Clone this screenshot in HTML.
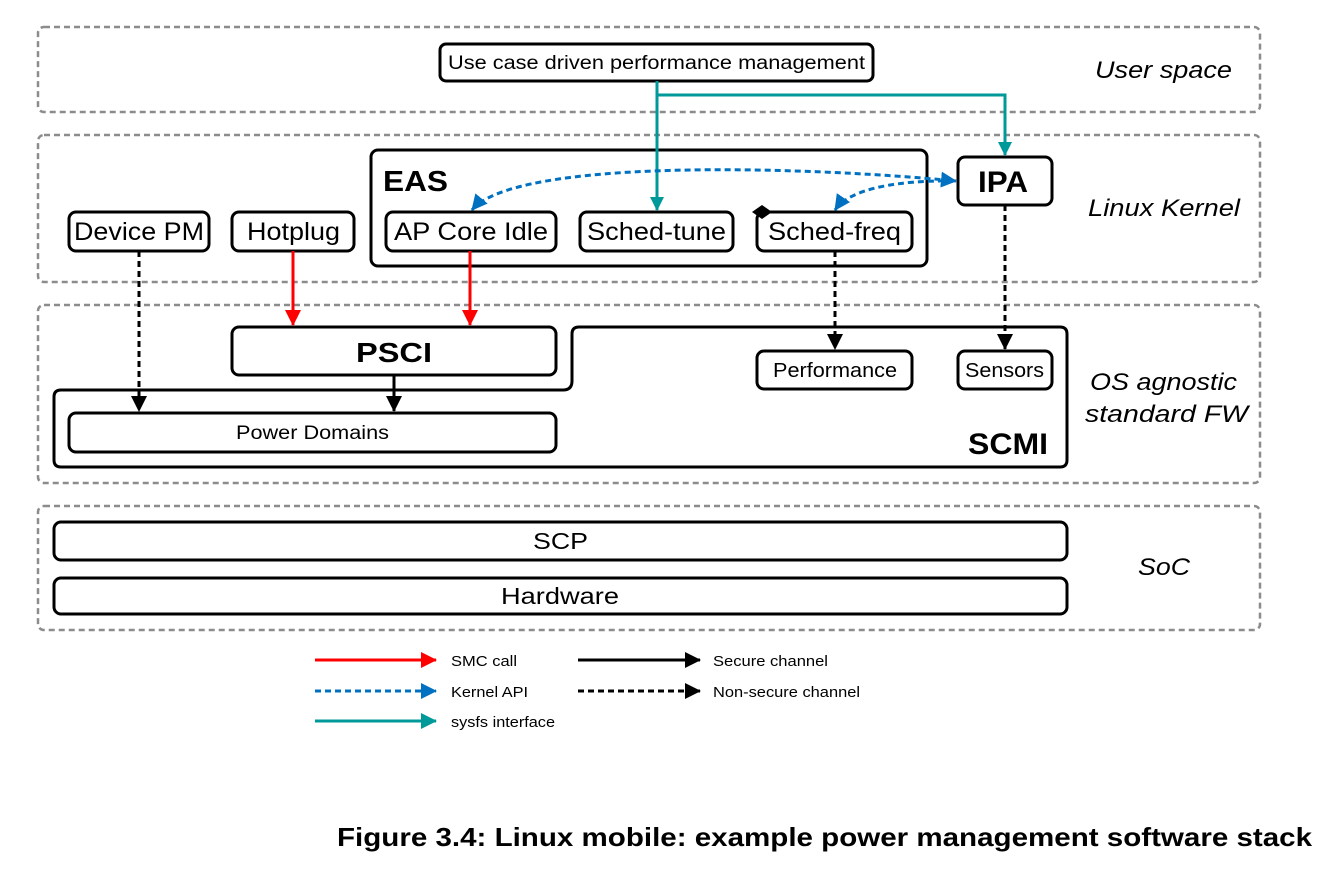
<!DOCTYPE html>
<html><head><meta charset="utf-8"><style>
html,body{margin:0;padding:0;background:#fff;}
svg{display:block;font-family:"Liberation Sans",Arial,sans-serif;}
</style></head><body>
<svg width="1327" height="869" viewBox="0 0 1327 869" xmlns="http://www.w3.org/2000/svg">
<defs>
<marker id="au" markerWidth="16" markerHeight="16" refX="15" refY="8" orient="auto-start-reverse" markerUnits="userSpaceOnUse" viewBox="0 0 16 16"><path d="M0,0 L16,8 L0,16z" fill="#0070c0"/></marker>
<marker id="ar2" markerWidth="16" markerHeight="16" refX="15" refY="8" orient="auto" markerUnits="userSpaceOnUse" viewBox="0 0 16 16"><path d="M0,0 L16,8 L0,16z" fill="#ff0000"/></marker>
<marker id="ab2" markerWidth="16" markerHeight="16" refX="15" refY="8" orient="auto" markerUnits="userSpaceOnUse" viewBox="0 0 16 16"><path d="M0,0 L16,8 L0,16z" fill="#000"/></marker>
<marker id="at" markerWidth="14" markerHeight="14" refX="13" refY="7" orient="auto" markerUnits="userSpaceOnUse" viewBox="0 0 14 14"><path d="M0,0 L14,7 L0,14z" fill="#009999"/></marker>
<marker id="at2" markerWidth="16" markerHeight="16" refX="15" refY="8" orient="auto" markerUnits="userSpaceOnUse" viewBox="0 0 16 16"><path d="M0,0 L16,8 L0,16z" fill="#009999"/></marker>
</defs>

<g fill="none" stroke="#8c8c8c" stroke-width="2.5" stroke-dasharray="6,4">
<rect x="38" y="27" width="1222" height="85" rx="6"/>
<rect x="38" y="135" width="1222" height="147" rx="6"/>
<rect x="38" y="305" width="1222" height="178" rx="6"/>
<rect x="38" y="506" width="1222" height="124" rx="6"/>
</g>

<g font-style="italic" font-size="24" fill="#000" lengthAdjust="spacingAndGlyphs">
<text x="1095" y="78" textLength="137" lengthAdjust="spacingAndGlyphs">User space</text>
<text x="1088" y="216" textLength="152" lengthAdjust="spacingAndGlyphs">Linux Kernel</text>
<text x="1090" y="390" textLength="147" lengthAdjust="spacingAndGlyphs">OS agnostic</text>
<text x="1085" y="422" textLength="163" lengthAdjust="spacingAndGlyphs">standard FW</text>
<text x="1138" y="575" textLength="52" lengthAdjust="spacingAndGlyphs">SoC</text>
</g>

<g fill="#fff" stroke="#000" stroke-width="3">
<rect x="440" y="44" width="433" height="37" rx="6"/>
<rect x="371" y="150" width="556" height="116" rx="7"/>
<rect x="958" y="157" width="94" height="48" rx="7"/>
<rect x="69" y="212" width="140" height="39" rx="7"/>
<rect x="232" y="212" width="122" height="39" rx="7"/>
<rect x="386" y="212" width="170" height="39" rx="7"/>
<rect x="580" y="212" width="153" height="39" rx="7"/>
<rect x="757" y="212" width="155" height="39" rx="7"/>
<path d="M61,390 L563,390 Q572,390 572,381 L572,334 Q572,327 579,327 L1060,327 Q1067,327 1067,334 L1067,460 Q1067,467 1060,467 L61,467 Q54,467 54,460 L54,397 Q54,390 61,390 Z"/>
<rect x="232" y="327" width="324" height="48" rx="7"/>
<rect x="69" y="413" width="487" height="39" rx="7"/>
<rect x="757" y="351" width="155" height="38" rx="7"/>
<rect x="958" y="351" width="94" height="38" rx="7"/>
<rect x="54" y="522" width="1013" height="38" rx="7"/>
<rect x="54" y="578" width="1013" height="36" rx="7"/>
</g>

<g fill="#000">
<text x="448" y="69" font-size="19" textLength="417" lengthAdjust="spacingAndGlyphs">Use case driven performance management</text>
<text x="383" y="191" font-size="29" font-weight="bold" textLength="65" lengthAdjust="spacingAndGlyphs">EAS</text>
<text x="978" y="192" font-size="30" font-weight="bold" textLength="50" lengthAdjust="spacingAndGlyphs">IPA</text>
<text x="74" y="240" font-size="25" textLength="130" lengthAdjust="spacingAndGlyphs">Device PM</text>
<text x="247" y="240" font-size="25" textLength="93" lengthAdjust="spacingAndGlyphs">Hotplug</text>
<text x="394" y="240" font-size="25" textLength="154" lengthAdjust="spacingAndGlyphs">AP Core Idle</text>
<text x="587" y="240" font-size="25" textLength="139" lengthAdjust="spacingAndGlyphs">Sched-tune</text>
<text x="768" y="240" font-size="25" textLength="133" lengthAdjust="spacingAndGlyphs">Sched-freq</text>
<text x="356" y="362" font-size="28" font-weight="bold" textLength="76" lengthAdjust="spacingAndGlyphs">PSCI</text>
<text x="236" y="439" font-size="19" textLength="153" lengthAdjust="spacingAndGlyphs">Power Domains</text>
<text x="773" y="377" font-size="20" textLength="124" lengthAdjust="spacingAndGlyphs">Performance</text>
<text x="965" y="377" font-size="20" textLength="79" lengthAdjust="spacingAndGlyphs">Sensors</text>
<text x="968" y="454" font-size="30" font-weight="bold" textLength="80" lengthAdjust="spacingAndGlyphs">SCMI</text>
<text x="533" y="549" font-size="23" textLength="55" lengthAdjust="spacingAndGlyphs">SCP</text>
<text x="501" y="604" font-size="23" textLength="118" lengthAdjust="spacingAndGlyphs">Hardware</text>
</g>

<g fill="none" stroke-width="3">
<path d="M657,81 L657,210" stroke="#009999" marker-end="url(#at)"/>
<path d="M657,95 L1005,95 L1005,155" stroke="#009999" marker-end="url(#at)"/>
<path d="M293,251 L293,325" stroke="#ff0000" marker-end="url(#ar2)"/>
<path d="M470,251 L470,325" stroke="#ff0000" marker-end="url(#ar2)"/>
<path d="M139,251 L139,411" stroke="#000" stroke-dasharray="6,4" marker-end="url(#ab2)"/>
<path d="M394,375 L394,411" stroke="#000" marker-end="url(#ab2)"/>
<path d="M835,251 L835,349" stroke="#000" stroke-dasharray="6,4" marker-end="url(#ab2)"/>
<path d="M1005,205 L1005,349" stroke="#000" stroke-dasharray="6,4" marker-end="url(#ab2)"/>
<path d="M472,210 C515,158 800,166 956,181" stroke="#0070c0" stroke-dasharray="6,4" marker-start="url(#au)" marker-end="url(#au)"/>
<path d="M835,210 C850,188 900,180 956,181" stroke="#0070c0" stroke-dasharray="6,4" marker-start="url(#au)"/>
</g>
<path d="M752,212 L762,205 L772,212 L762,219 Z" fill="#000"/>

<g fill="none" stroke-width="3">
<path d="M315,660 L436,660" stroke="#ff0000" marker-end="url(#ar2)"/>
<path d="M315,691 L436,691" stroke="#0070c0" stroke-dasharray="6,4" marker-end="url(#au)"/>
<path d="M315,721 L436,721" stroke="#009999" marker-end="url(#at2)"/>
<path d="M578,660 L700,660" stroke="#000" marker-end="url(#ab2)"/>
<path d="M578,691 L700,691" stroke="#000" stroke-dasharray="6,4" marker-end="url(#ab2)"/>
</g>
<g font-size="15" fill="#000">
<text x="451" y="666" textLength="66" lengthAdjust="spacingAndGlyphs">SMC call</text>
<text x="451" y="697" textLength="77" lengthAdjust="spacingAndGlyphs">Kernel API</text>
<text x="451" y="727" textLength="104" lengthAdjust="spacingAndGlyphs">sysfs interface</text>
<text x="713" y="666" textLength="115" lengthAdjust="spacingAndGlyphs">Secure channel</text>
<text x="713" y="697" textLength="147" lengthAdjust="spacingAndGlyphs">Non-secure channel</text>
</g>

<text x="337" y="846" font-size="26" font-weight="bold" fill="#000" textLength="975" lengthAdjust="spacingAndGlyphs">Figure 3.4: Linux mobile: example power management software stack</text>
</svg>
</body></html>
